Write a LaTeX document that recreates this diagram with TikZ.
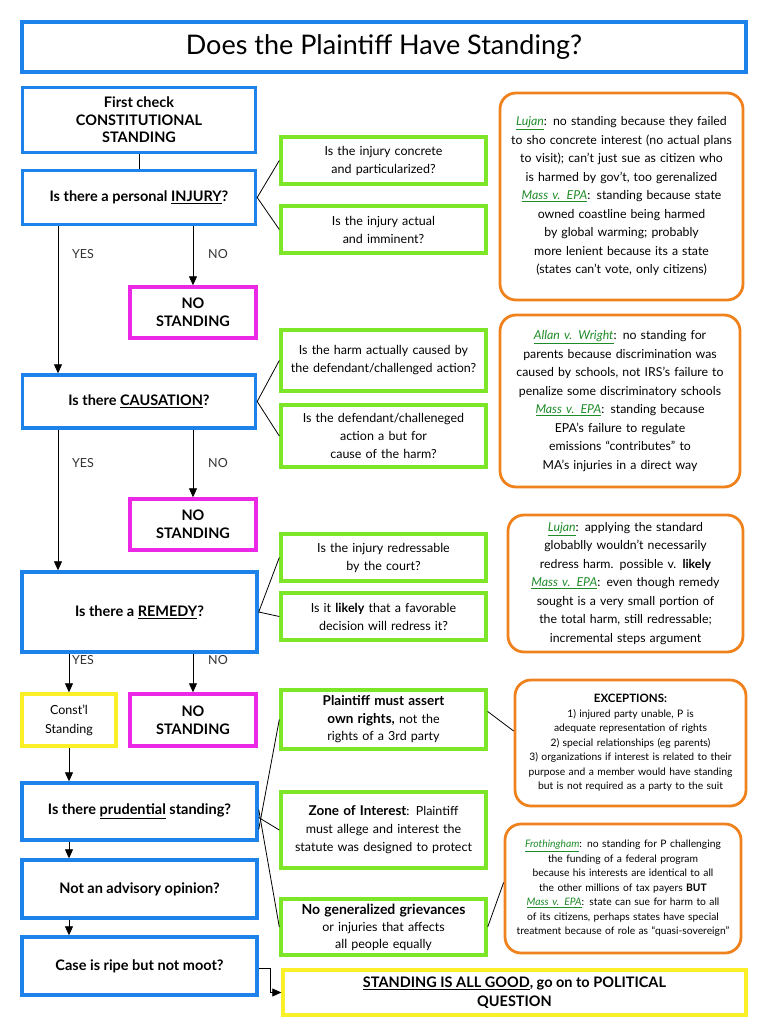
\documentclass[tikz,border=0pt]{standalone}
\usepackage{fontspec}
\setmainfont{Lato}
\usetikzlibrary{arrows.meta}
\definecolor{cblue}{RGB}{30,130,235}
\definecolor{cgreen}{RGB}{125,230,40}
\definecolor{cmag}{RGB}{235,40,230}
\definecolor{cyel}{RGB}{250,240,40}
\definecolor{corg}{RGB}{240,130,30}
\definecolor{clink}{RGB}{30,140,40}
\newcommand{\lk}[1]{\textcolor{clink}{\underline{\textit{#1}}}}
\newcommand{\nohy}{\hyphenpenalty=10000\exhyphenpenalty=10000}
\tikzset{
 base/.style={draw,line width=3.4pt,align=center,inner sep=2pt,fill=white},
 bluebox/.style={base,draw=cblue,font=\bfseries\fontsize{14.5}{17.5}\selectfont},
 greenbox/.style={base,draw=cgreen,minimum width=205pt,text width=188pt,font=\nohy\fontsize{12.5}{18}\selectfont},
 nsbox/.style={base,draw=cmag,minimum width=126pt,minimum height=51pt,font=\bfseries\fontsize{14.5}{18}\selectfont},
 orbox/.style={draw=corg,line width=2.8pt,rounded corners=16pt,align=center,inner sep=3pt,fill=white},
 lbl/.style={font=\fontsize{12.5}{14}\selectfont,text=black!80},
 arr/.style={-{Triangle[length=9pt,width=8pt]},line width=0.8pt},
 ln/.style={line width=0.8pt}
}
\begin{document}
\begin{tikzpicture}[x=1pt,y=-1pt]
\useasboundingbox (0,0) rectangle (768,1024);
\node[base,draw=cblue,minimum width=724pt,minimum height=50pt,font=\fontsize{27}{30}\selectfont] (title) at (384,47) {Does the Plaintiff Have Standing?};
% left column
\node[bluebox,minimum width=233pt,minimum height=65pt] (first) at (139,120) {First check\\CONSTITUTIONAL\\STANDING};
\node[bluebox,minimum width=233pt,minimum height=54pt] (inj) at (139,197.5) {Is there a personal \underline{INJURY}?};
\node[nsbox] (ns1) at (193,312.5) {NO\\STANDING};
\node[bluebox,minimum width=233pt,minimum height=53pt] (caus) at (139,401.5) {Is there \underline{CAUSATION}?};
\node[nsbox] (ns2) at (193,524.5) {NO\\STANDING};
\node[bluebox,minimum width=235pt,minimum height=80pt] (rem) at (139.5,612) {Is there a \underline{REMEDY}?};
\node[base,draw=cyel,minimum width=94pt,minimum height=52pt,font=\fontsize{12.5}{19}\selectfont] (const) at (69,720) {Const'l\\Standing};
\node[nsbox,minimum height=52pt] (ns3) at (193,720) {NO\\STANDING};
\node[bluebox,minimum width=235pt,minimum height=57pt] (prud) at (139.5,811.5) {Is there \underline{prudential} standing?};
\node[bluebox,minimum width=235pt,minimum height=58pt] (adv) at (139.5,889) {Not an advisory opinion?};
\node[bluebox,minimum width=235pt,minimum height=58pt] (ripe) at (139.5,966) {Case is ripe but not moot?};
\node[base,draw=cyel,minimum width=463pt,minimum height=45pt,font=\bfseries\fontsize{14.5}{19}\selectfont] (good) at (514.5,992.5) {\underline{STANDING IS ALL GOOD}, go on to POLITICAL\\QUESTION};
% green boxes
\node[greenbox,minimum height=47pt] (g1) at (383.5,160.5) {Is the injury concrete and particularized?};
\node[greenbox,minimum height=47pt,text width=160pt] (g2) at (383.5,229.5) {Is the injury actual and imminent?};
\node[greenbox,minimum height=61pt] (g3) at (383.5,360.5) {Is the harm actually caused by the defendant/challenged action?};
\node[greenbox,minimum height=62pt] (g4) at (383.5,436) {Is the defendant/challeneged action a but for cause of the harm?};
\node[greenbox,minimum height=47pt] (g5) at (383.5,557.5) {Is the injury redressable by the court?};
\node[greenbox,minimum height=47pt] (g6) at (383.5,616.5) {Is it \textbf{likely} that a favorable decision will redress it?};
\node[greenbox,minimum height=59pt,font=\nohy\fontsize{12.5}{17.5}\selectfont] (g7) at (383.5,719.5) {\textbf{\fontsize{13.5}{17.5}\selectfont Plaintiff must assert own rights,} not the rights of a 3rd party};
\node[greenbox,minimum height=76pt,font=\nohy\fontsize{12.5}{18}\selectfont] (g8) at (383.5,830) {\textbf{\fontsize{13.5}{18}\selectfont Zone of Interest}: Plaintiff must allege and interest the statute was designed to protect};
\node[greenbox,minimum height=56pt,font=\nohy\fontsize{12.5}{17}\selectfont] (g9) at (383.5,927) {\textbf{\fontsize{14}{17}\selectfont No generalized grievances} or injuries that affects all people equally};
% orange boxes
\node[orbox,minimum width=243pt,minimum height=207pt,text width=222pt,font=\nohy\fontsize{12.3}{18.5}\selectfont] (o1) at (621.5,196.5) {\lk{Lujan}: no standing because they failed to sho concrete interest (no actual plans to visit); can't just sue as citizen who is harmed by gov't, too gerenalized\\ \lk{Mass v. EPA}: standing because state owned coastline being harmed by global warming; probably more lenient because its a state (states can't vote, only citizens)};
\node[orbox,minimum width=240pt,minimum height=172pt,text width=222pt,font=\nohy\fontsize{12.3}{18.5}\selectfont] (o2) at (620,401) {\lk{Allan v. Wright}: no standing for parents because discrimination was caused by schools, not IRS's failure to penalize some discriminatory schools\\ \lk{Mass v. EPA}: standing because EPA's failure to regulate emissions ``contributes'' to MA's injuries in a direct way};
\node[orbox,minimum width=235pt,minimum height=137pt,text width=220pt,font=\nohy\fontsize{12.3}{18.5}\selectfont] (o3) at (625.5,583.5) {\lk{Lujan}: applying the standard globablly wouldn't necessarily redress harm. possible v. \textbf{likely}\\ \lk{Mass v. EPA}: even though remedy sought is a very small portion of the total harm, still redressable; incremental steps argument};
\node[orbox,minimum width=231pt,minimum height=126pt,text width=218pt,font=\nohy\fontsize{10.3}{14.5}\selectfont] (o4) at (630.5,743) {\textbf{\fontsize{11.5}{14.5}\selectfont EXCEPTIONS:}\\ 1) injured party unable, P is adequate representation of rights\\ 2) special relationships (eg parents)\\ 3) organizations if interest is related to their purpose and a member would have standing but is not required as a party to the suit};
\node[orbox,minimum width=236pt,minimum height=129pt,text width=220pt,font=\nohy\fontsize{10.3}{14.5}\selectfont] (o5) at (623,888.5) {\lk{Frothingham}: no standing for P challenging the funding of a federal program because his interests are identical to all the other millions of tax payers \textbf{BUT}\\ \lk{Mass v. EPA}: state can sue for harm to all of its citizens, perhaps states have special treatment because of role as ``quasi-sovereign''};
% connectors
\draw[ln] (first) -- (inj);
\draw[arr] ([xshift=-81pt]inj.south) -- ([xshift=-81pt]caus.north);
\draw[arr] (inj.south -| ns1.north) -- (ns1.north);
\draw[arr] ([xshift=-81pt]caus.south) -- ([xshift=-81.5pt]rem.north);
\draw[arr] (caus.south -| ns2.north) -- (ns2.north);
\draw[arr] (rem.south -| const.north) -- (const.north);
\draw[arr] (rem.south -| ns3.north) -- (ns3.north);
\draw[arr] (const.south) -- (prud.north -| const.south);
\draw[arr] (prud.south -| const.south) -- (adv.north -| const.south);
\draw[arr] (adv.south -| const.south) -- (ripe.north -| const.south);
\coordinate (r1) at (270,968);
\draw[arr] (ripe.east |- r1) -- (r1) |- (good.west);
\node[lbl] at (83,254) {YES}; \node[lbl] at (218,254) {NO};
\node[lbl] at (83,463) {YES}; \node[lbl] at (218,463) {NO};
\node[lbl] at (83,660) {YES}; \node[lbl] at (218,660) {NO};
\draw[ln] (g1.west) -- (inj.east) -- (g2.west);
\draw[ln] (g3.west) -- (caus.east) -- (g4.west);
\draw[ln] (g5.west) -- (rem.east) -- (g6.west);
\draw[ln] (g7.west) -- ([yshift=-18pt]prud.east);
\draw[ln] (g8.west) -- ([yshift=-6pt]prud.east);
\draw[ln] (g9.west) -- ([yshift=2pt]prud.east);
\draw[ln] ([yshift=8pt]g7.east) -- ([yshift=12pt]o4.west);
\draw[ln] (g9.east) -- ([yshift=6pt]o5.west);
\end{tikzpicture}
\end{document}
